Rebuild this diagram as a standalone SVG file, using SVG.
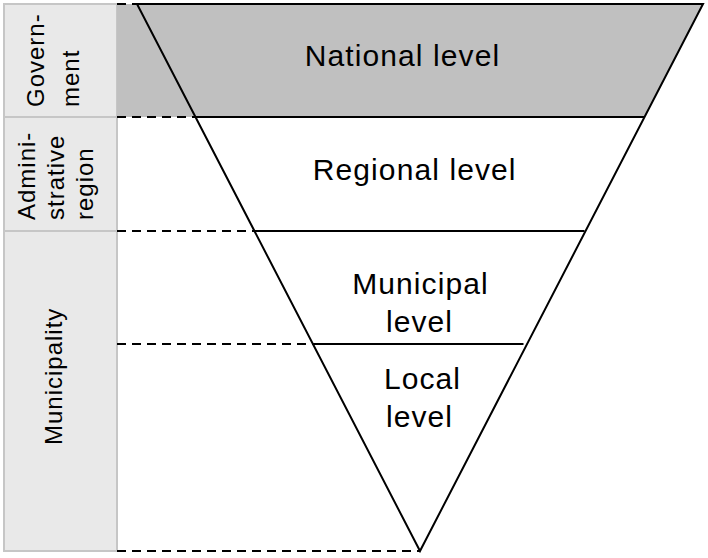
<svg xmlns="http://www.w3.org/2000/svg" width="708" height="558" viewBox="0 0 708 558">
  <style>
    .cell { fill: #e9e9e9; stroke: #c6c6c6; stroke-width: 2; }
    .side { font-family: "Liberation Sans", Arial, sans-serif; font-size: 24px; letter-spacing: 1px; fill: #000; }
    .lvl { font-family: "Liberation Sans", Arial, sans-serif; font-size: 30px; letter-spacing: 1.1px; fill: #000; text-anchor: middle; }
    .edge { stroke: #000; stroke-width: 2; fill: none; }
    .dash { stroke: #000; stroke-width: 2; fill: none; stroke-dasharray: 9 6; }
  </style>
  <rect width="708" height="558" fill="#fff"/>

  <g id="side-panel">
    <g id="government">
      <rect class="cell" x="4" y="4" width="113" height="113"/>
      <text class="side" transform="rotate(-90 43.5 107)" x="43.5" y="107">Govern-</text>
      <text class="side" transform="rotate(-90 78.5 107)" x="78.5" y="107">ment</text>
    </g>
    <g id="administrative-region">
      <rect class="cell" x="4" y="117" width="113" height="114"/>
      <text class="side" transform="rotate(-90 35 220)" x="35" y="220">Admini-</text>
      <text class="side" transform="rotate(-90 63.5 220)" x="63.5" y="220">strative</text>
      <text class="side" transform="rotate(-90 93 220)" x="93" y="220">region</text>
    </g>
    <g id="municipality">
      <rect class="cell" x="4" y="231" width="113" height="320"/>
      <text class="side" transform="rotate(-90 61.7 445)" x="61.7" y="445">Municipality</text>
    </g>
  </g>

  <g id="national-level">
    <polygon points="117,4 703,4 644.5,117 117,117" fill="#c0c0c0"/>
    <text class="lvl" x="402.5" y="66">National level</text>
  </g>
  <g id="regional-level">
    <text class="lvl" x="414.7" y="180">Regional level</text>
  </g>
  <g id="municipal-level">
    <text class="lvl" x="420.5" y="293.5">Municipal</text>
    <text class="lvl" x="419.5" y="331.5">level</text>
  </g>
  <g id="local-level">
    <text class="lvl" x="422.5" y="388.5">Local</text>
    <text class="lvl" x="419.5" y="426.5">level</text>
  </g>

  <g id="connectors">
    <polygon class="edge" points="137,4 703,4 420,551" stroke-linejoin="miter"/>
    <line class="edge" x1="195.5" y1="117" x2="644.5" y2="117"/>
    <line class="edge" x1="254.4" y1="231" x2="584.5" y2="231"/>
    <line class="edge" x1="312.9" y1="344" x2="523.5" y2="344"/>
    <line class="dash" x1="117" y1="4" x2="137" y2="4"/>
    <line class="dash" x1="117" y1="117" x2="195.5" y2="117"/>
    <line class="dash" x1="117" y1="231" x2="254.4" y2="231"/>
    <line class="dash" x1="117" y1="344" x2="312.9" y2="344"/>
    <line class="dash" x1="117" y1="551" x2="420" y2="551"/>
  </g>
</svg>
